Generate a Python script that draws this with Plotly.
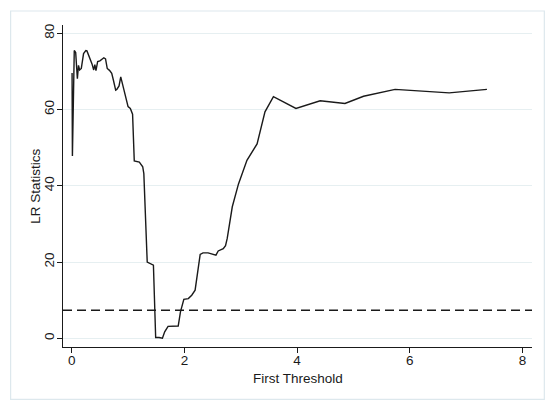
import plotly.graph_objects as go

# first threshold candidates and the LR statistic at each of them
threshold = [0.006, 0.012, 0.045, 0.07, 0.10, 0.12, 0.14, 0.17, 0.21, 0.25, 0.27,
             0.31, 0.36, 0.39, 0.41, 0.43, 0.46, 0.50, 0.54, 0.57, 0.60, 0.63,
             0.67, 0.71, 0.74, 0.78, 0.80, 0.84, 0.87, 0.91, 0.95, 0.98, 1.00,
             1.04, 1.08, 1.11, 1.16, 1.20, 1.26, 1.28, 1.34, 1.39, 1.45, 1.49,
             1.55, 1.61, 1.65, 1.71, 1.80, 1.89, 1.93, 1.99, 2.07, 2.13, 2.19,
             2.28, 2.33, 2.42, 2.56, 2.60, 2.69, 2.73, 2.76, 2.85, 2.96, 3.11,
             3.29, 3.43, 3.58, 3.98, 4.41, 4.85, 5.18, 5.74, 6.70, 7.37]
lr_stat = [69.6, 47.8, 75.5, 75.0, 68.1, 71.6, 70.4, 70.8, 74.7, 75.5, 75.4,
           74.0, 72.0, 70.4, 71.8, 70.2, 72.6, 72.8, 73.3, 73.6, 73.3, 70.8,
           70.3, 69.5, 67.7, 65.1, 65.3, 66.2, 68.6, 66.3, 63.3, 62.0, 60.8,
           60.3, 58.8, 46.5, 46.3, 46.2, 45.0, 43.2, 20.0, 19.6, 19.2, 0.2,
           0.2, 0.0, 1.7, 3.1, 3.2, 3.2, 6.9, 10.2, 10.4, 11.3, 12.6,
           22.0, 22.4, 22.4, 21.8, 22.9, 23.5, 24.3, 26.2, 34.5, 40.5, 46.7,
           51.0, 59.4, 63.4, 60.3, 62.3, 61.6, 63.5, 65.3, 64.4, 65.3]

crit_value = 7.35
x_span = [-0.155, 8.17]
y_span = [-2.3, 82.2]
x_title = "First Threshold"
y_title = "LR Statistics"

ink = "#1a1a1a"
grid = "#e6eff1"
font = "Liberation Sans, Arial, Helvetica, sans-serif"

fig = go.Figure()

fig.add_trace(go.Scatter(x=x_span, y=[crit_value, crit_value], mode="lines",
                         line=dict(color=ink, width=1.3, dash="9px,5px"),
                         hoverinfo="skip", showlegend=False))

fig.add_trace(go.Scatter(x=threshold, y=lr_stat, mode="lines",
                         line=dict(color=ink, width=1.4),
                         showlegend=False))

# faint outline of the graph region, like Stata's s2color scheme
fig.add_shape(type="rect", xref="paper", yref="paper",
              x0=-0.1117, x1=1.0263, y0=-0.1626, y1=1.0435,
              line=dict(color="#dde8ed", width=1.2), layer="below")

# axis titles placed by hand (plotly's standoff can't get them close enough)
fig.add_annotation(text=x_title, xref="paper", yref="paper", x=0.501, y=-0.099,
                   xanchor="center", yanchor="middle", showarrow=False,
                   font=dict(size=13.5))
fig.add_annotation(text=y_title, xref="paper", yref="paper", x=-0.060, y=0.5,
                   xanchor="center", yanchor="middle", textangle=-90,
                   showarrow=False, font=dict(size=13.5))

fig.update_layout(
    width=550, height=406,
    margin=dict(l=63, r=18, t=25, b=59),
    paper_bgcolor="white", plot_bgcolor="white",
    font=dict(family=font, size=13.5, color=ink),
    xaxis=dict(range=x_span, tickvals=[0, 2, 4, 6, 8], automargin=False,
               showgrid=False, zeroline=False,
               showline=True, linecolor=ink, linewidth=1.2,
               ticks="outside", ticklen=5, tickcolor=ink,
               ticklabelstandoff=-4, tickfont=dict(size=13.5)),
    yaxis=dict(range=y_span, tickvals=[0, 20, 40, 60, 80], automargin=False,
               showgrid=True, gridcolor=grid, gridwidth=1, zeroline=False,
               showline=True, linecolor=ink, linewidth=1.2,
               ticks="outside", ticklen=5, tickcolor=ink,
               ticklabelstandoff=-2, tickangle=-90, tickfont=dict(size=13.5)),
)

# drop the page's default body margin so the figure sits at the window's corner
fig.write_html("out.html", config={"displayModeBar": False},
               post_script="document.body.style.margin='0';")
